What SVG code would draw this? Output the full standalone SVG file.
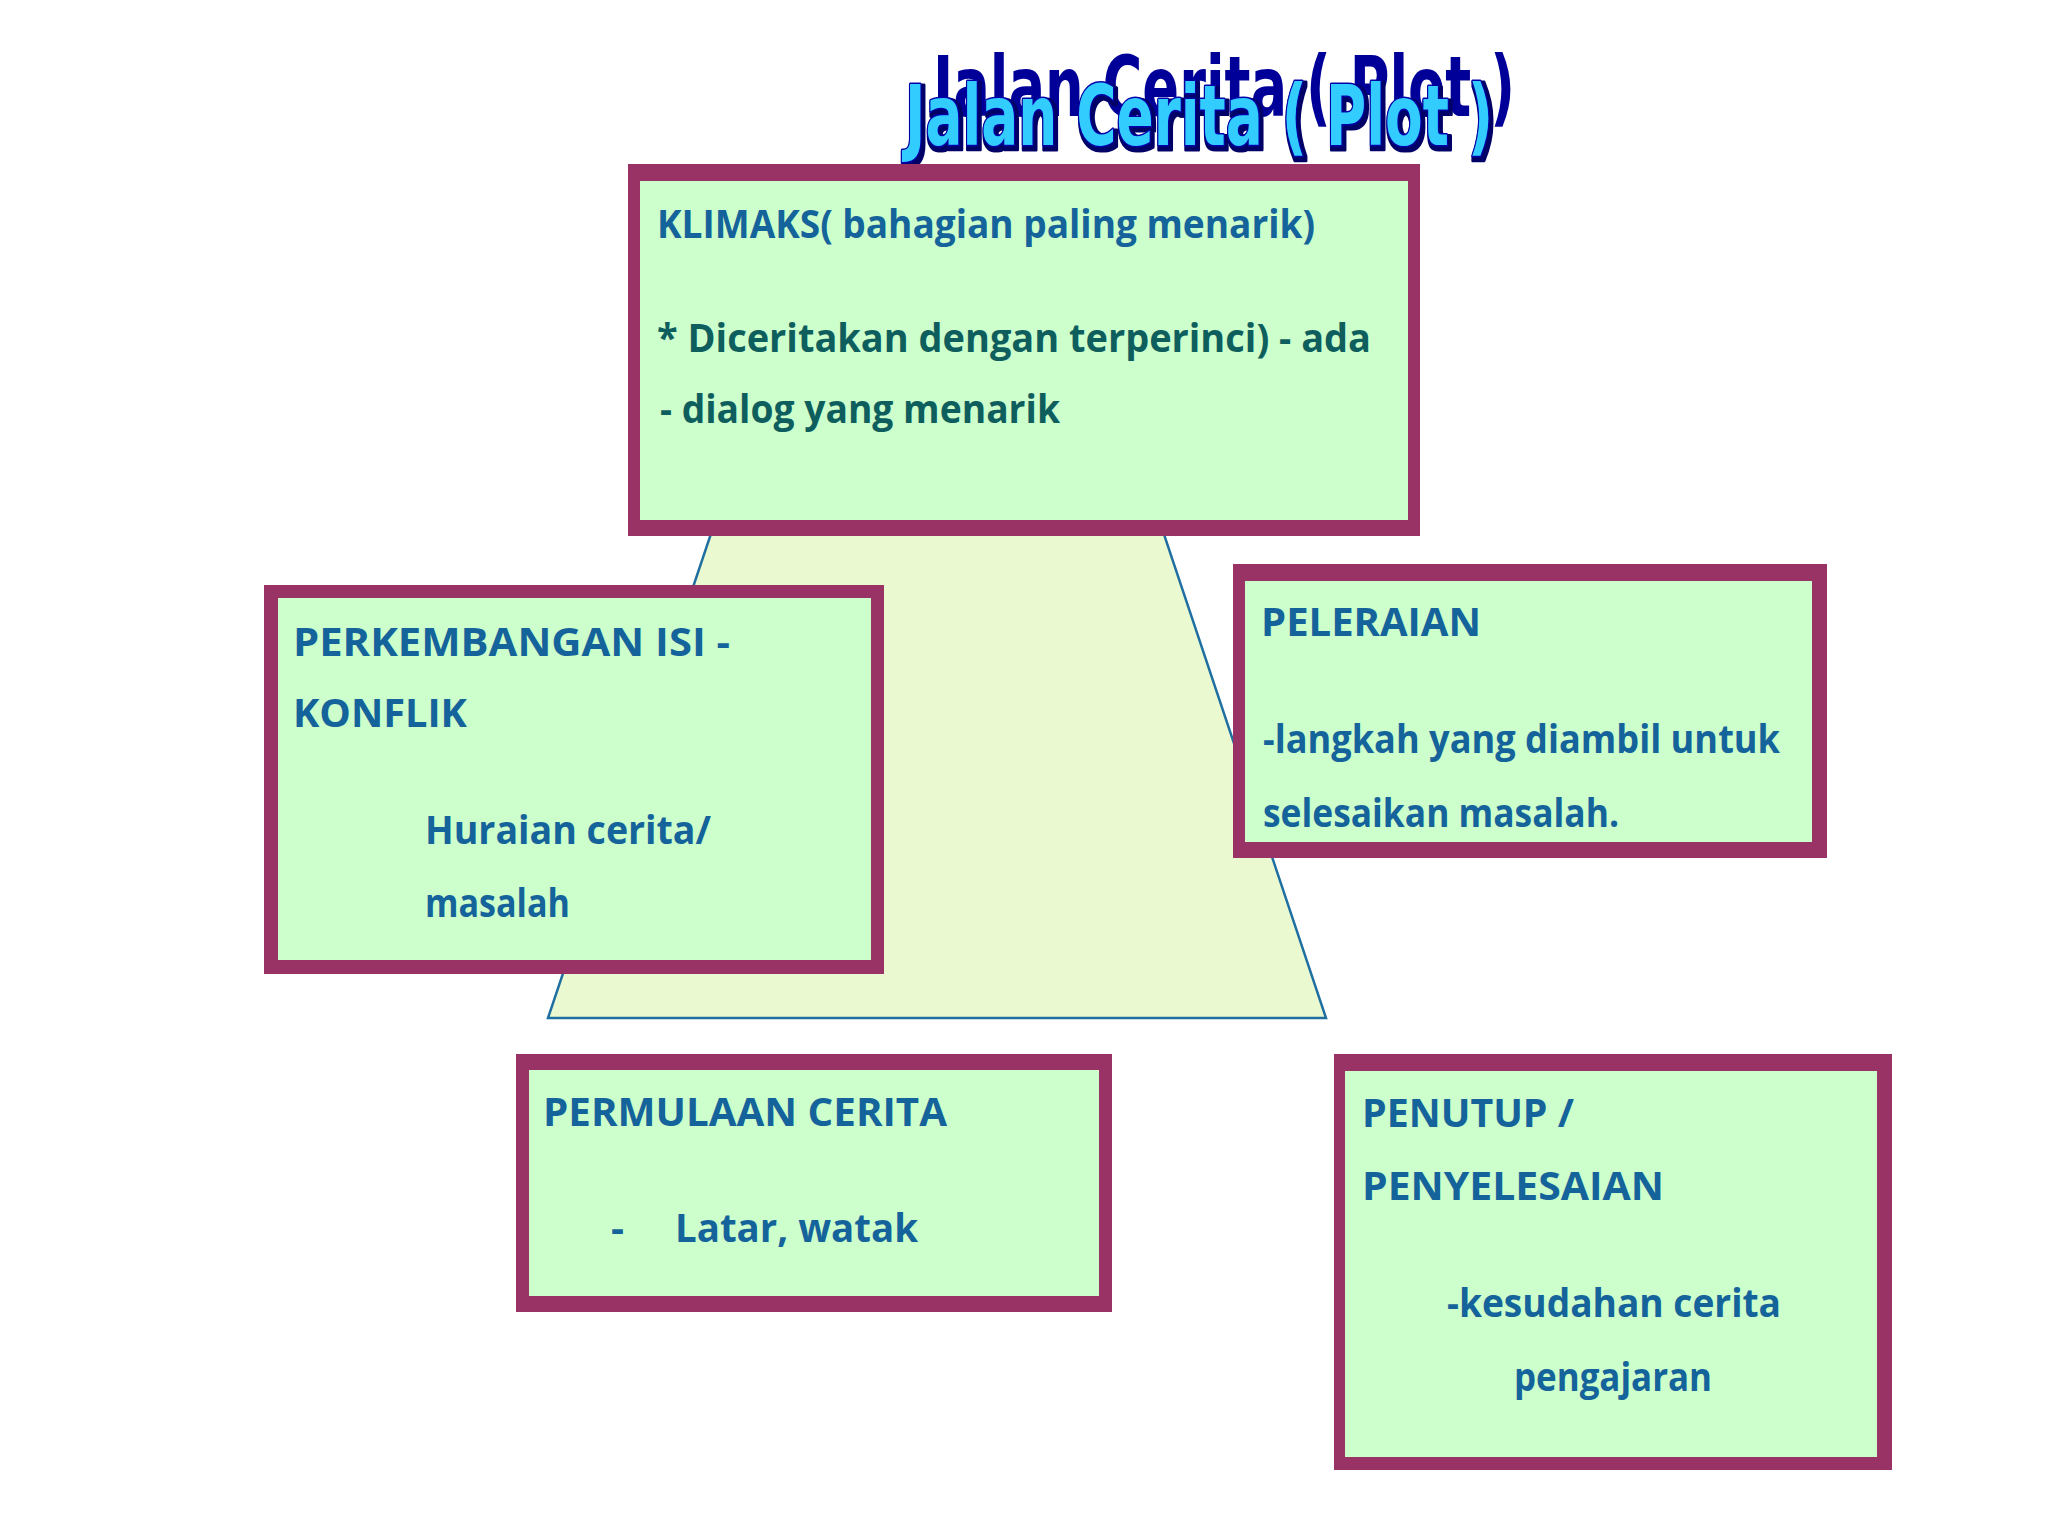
<svg xmlns="http://www.w3.org/2000/svg" width="2048" height="1536" viewBox="0 0 2048 1536">
<defs>
<filter id="shadow" x="-5%" y="-20%" width="110%" height="140%">
<feMorphology in="SourceAlpha" operator="dilate" radius="2" result="thick"/>
<feOffset in="thick" dx="2" dy="3" result="off"/>
<feFlood flood-color="#000066"/>
<feComposite in2="off" operator="in" result="sh"/>
<feMerge><feMergeNode in="sh"/><feMergeNode in="SourceGraphic"/></feMerge>
</filter>
</defs>
<style>
.frame{fill:#993366;}
.fill{fill:#CCFFCC;}
.t{font-family:"Open Sans","DejaVu Sans",sans-serif;font-size:40px;font-weight:700;fill:#14639A;}
.d{fill:#0E5E5E;}
.ttl{font-family:"Liberation Sans Narrow","DejaVu Sans Condensed","Liberation Sans",sans-serif;font-size:84px;font-weight:bold;}
</style>
<rect x="0" y="0" width="2048" height="1536" fill="#FFFFFF"/>

<g id="pyramid">
<polygon points="756,400 1119,400 1326,1018 548,1018" fill="#EBF9D1" stroke="#1F6FA0" stroke-width="2.5" stroke-linejoin="miter"/>
</g>

<g id="title">
<text class="ttl" x="933" y="116" textLength="582" lengthAdjust="spacingAndGlyphs" fill="#000099">Jalan Cerita ( Plot )</text>
<text class="ttl" x="905" y="145" textLength="588" lengthAdjust="spacingAndGlyphs" fill="#33CCFF" stroke="#0000AA" stroke-width="3" stroke-linejoin="round" paint-order="stroke" filter="url(#shadow)">Jalan Cerita ( Plot )</text>
</g>

<g id="klimaks">
<rect class="frame" x="628" y="164" width="792" height="372"/>
<rect class="fill" x="640" y="181" width="768" height="339"/>
<text class="t" x="657" y="238" textLength="658" lengthAdjust="spacingAndGlyphs">KLIMAKS( bahagian paling menarik)</text>
<text class="t d" x="657" y="352" textLength="714" lengthAdjust="spacingAndGlyphs">* Diceritakan dengan terperinci) - ada</text>
<text class="t d" x="660" y="423" textLength="400" lengthAdjust="spacingAndGlyphs">- dialog yang menarik</text>
</g>

<g id="perkembangan">
<rect class="frame" x="264" y="585" width="620" height="389"/>
<rect class="fill" x="278" y="598" width="593" height="362"/>
<text class="t" x="293" y="656" textLength="437" lengthAdjust="spacingAndGlyphs">PERKEMBANGAN ISI -</text>
<text class="t" x="293" y="727" textLength="174" lengthAdjust="spacingAndGlyphs">KONFLIK</text>
<text class="t" x="425" y="844" textLength="286" lengthAdjust="spacingAndGlyphs">Huraian cerita/</text>
<text class="t" x="425" y="917" textLength="145" lengthAdjust="spacingAndGlyphs">masalah</text>
</g>

<g id="peleraian">
<rect class="frame" x="1233" y="564" width="594" height="294"/>
<rect class="fill" x="1245" y="581" width="567" height="261"/>
<text class="t" x="1261" y="636" textLength="220" lengthAdjust="spacingAndGlyphs">PELERAIAN</text>
<text class="t" x="1263" y="753" textLength="517" lengthAdjust="spacingAndGlyphs">-langkah yang diambil untuk</text>
<text class="t" x="1263" y="827" textLength="356" lengthAdjust="spacingAndGlyphs">selesaikan masalah.</text>
</g>

<g id="permulaan">
<rect class="frame" x="516" y="1054" width="596" height="258"/>
<rect class="fill" x="529" y="1070" width="570" height="226"/>
<text class="t" x="543" y="1126" textLength="404" lengthAdjust="spacingAndGlyphs">PERMULAAN CERITA</text>
<text class="t" x="611" y="1242" textLength="13" lengthAdjust="spacingAndGlyphs">-</text>
<text class="t" x="675" y="1242" textLength="243" lengthAdjust="spacingAndGlyphs">Latar, watak</text>
</g>

<g id="penutup">
<rect class="frame" x="1334" y="1054" width="558" height="416"/>
<rect class="fill" x="1345" y="1071" width="532" height="386"/>
<text class="t" x="1362" y="1127" textLength="212" lengthAdjust="spacingAndGlyphs">PENUTUP /</text>
<text class="t" x="1362" y="1200" textLength="302" lengthAdjust="spacingAndGlyphs">PENYELESAIAN</text>
<text class="t" x="1447" y="1317" textLength="334" lengthAdjust="spacingAndGlyphs">-kesudahan cerita</text>
<text class="t" x="1514" y="1391" textLength="198" lengthAdjust="spacingAndGlyphs">pengajaran</text>
</g>
</svg>
